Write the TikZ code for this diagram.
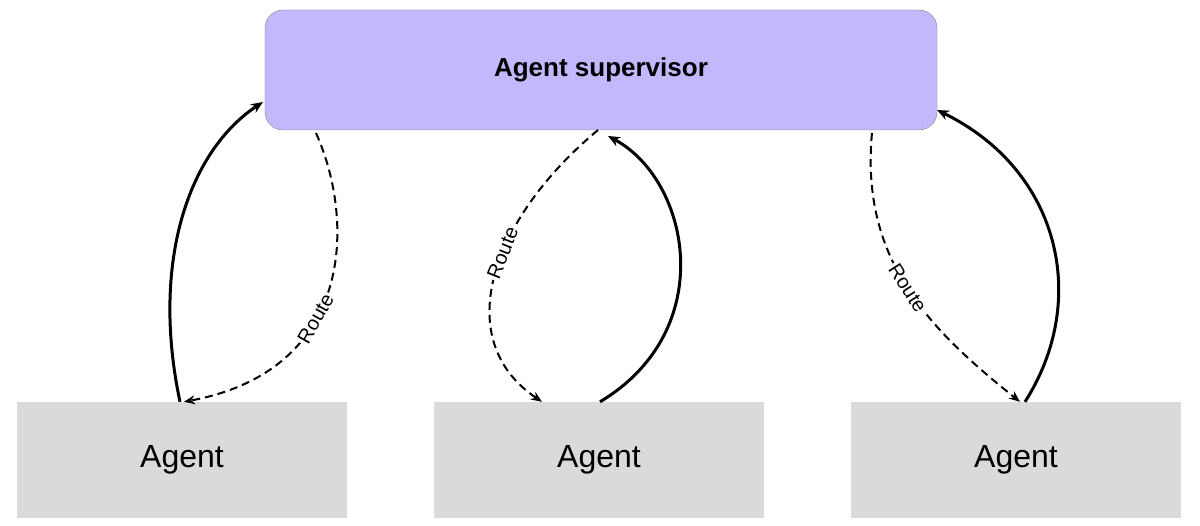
\documentclass[tikz,border=0pt]{standalone}
\usepackage{fontspec}
\setmainfont{Liberation Sans}
\usetikzlibrary{arrows.meta}
\definecolor{sup}{HTML}{C4B8FD}
\definecolor{ag}{HTML}{DADADA}
\begin{document}
\begin{tikzpicture}[x=1pt,y=-1pt,
  agentbox/.style={fill=ag,minimum width=330pt,minimum height=116pt,font=\fontsize{32}{38}\selectfont},
  solidarr/.style={line width=3pt,-{Stealth[length=12pt,width=10pt]}},
  routearr/.style={line width=2pt,dash pattern=on 8pt off 5pt,-{Stealth[length=11pt,width=9pt]}},
  lbl/.style={sloped,fill=white,inner sep=2pt,font=\fontsize{20}{22}\selectfont}]
\useasboundingbox (0,0) rectangle (1200,526);
\node[draw=gray,fill=sup,rounded corners=18pt,minimum width=672pt,minimum height=120pt,font=\bfseries\fontsize{26}{30}\selectfont] (s) at (601,70) {Agent supervisor};
\node[agentbox] (a1) at (182,460) {Agent};
\node[agentbox] (a2) at (599,460) {Agent};
\node[agentbox] (a3) at (1016,460) {Agent};
\coordinate (s1) at (263,102); \coordinate (s1b) at (316,133);
\coordinate (s2) at (598,130); \coordinate (s2b) at (608,136);
\coordinate (s3) at (872,133); \coordinate (s3b) at (937,110);
\draw[solidarr] (a1.north -| 180,0) .. controls (150,260) and (190,150) .. (s1);
\draw[routearr] (s1b) .. controls (355,220) and (355,370) .. node[lbl,pos=0.6]{Route} (a1.north -| 184,0);
\draw[routearr] (s2) .. controls (490,220) and (450,340) .. node[lbl,pos=0.42]{Route} (a2.north -| 542,0);
\draw[solidarr] (a2.north -| 600,0) .. controls (720,330) and (690,180) .. (s2b);
\draw[routearr] (s3) .. controls (860,260) and (930,330) .. node[lbl,pos=0.5]{Route} (a3.north -| 1020,0);
\draw[solidarr] (a3.north -| 1025,0) .. controls (1090,300) and (1060,170) .. (s3b);
\end{tikzpicture}
\end{document}
